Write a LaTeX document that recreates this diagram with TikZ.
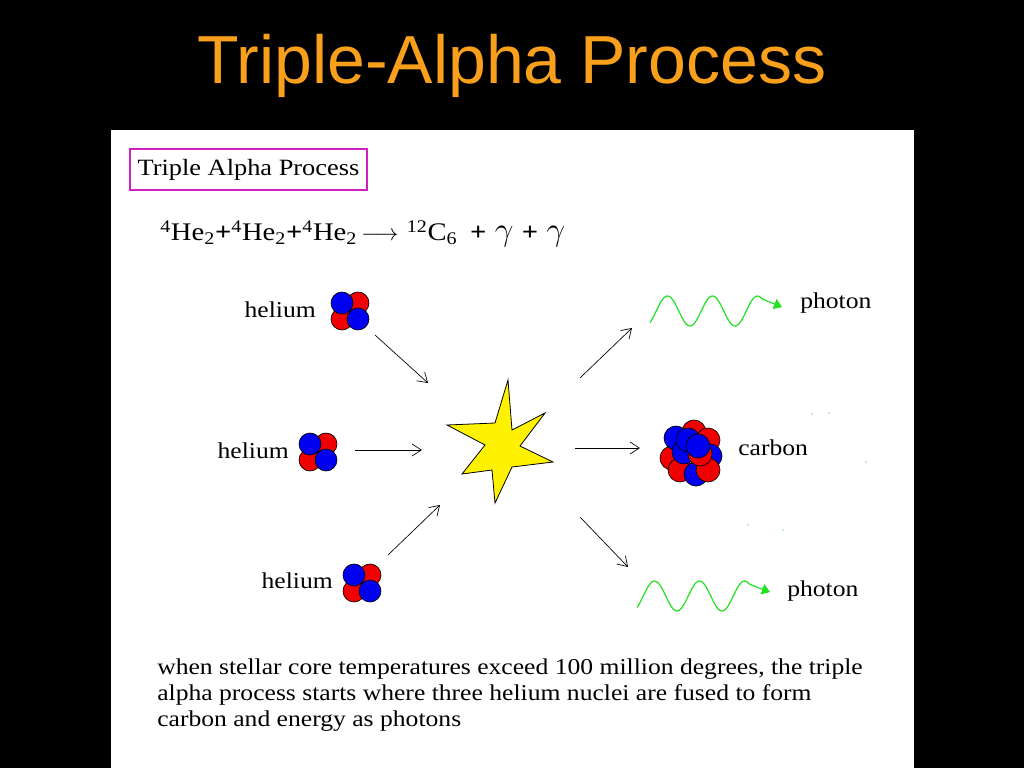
\documentclass[tikz,border=0pt]{standalone}
\usepackage{fontspec}
\setmainfont{Liberation Serif}[FakeStretch=1.13]
\newfontfamily\titlefont{Liberation Sans}
\usetikzlibrary{arrows.meta}
\definecolor{ttl}{HTML}{F8A01C}
\definecolor{nb}{HTML}{0000F0}
\definecolor{nr}{HTML}{F00000}
\definecolor{ph}{HTML}{22E022}
\definecolor{bx}{HTML}{D020C0}
\begin{document}
\begin{tikzpicture}[x=0.75pt,y=-0.75pt,
  arr/.style={-{Straight Barb[length=7pt,width=9pt]},line width=0.5pt},
  lbl/.style={font=\fontsize{17}{20}\selectfont,inner sep=0pt},
  blue/.style={fill=nb,draw=black,line width=0.5pt},
  red/.style={fill=nr,draw=black,line width=0.5pt},
  wave/.style={ph,line width=0.9pt,-{Triangle[length=6pt,width=8pt]}}]
\fill[black] (0,0) rectangle (1024,768);
\useasboundingbox (0,0) rectangle (1024,768);
\fill[white] (111,130) rectangle (914,768);
\node[font=\titlefont\fontsize{51}{56}\selectfont,text=ttl] (title) at (512,66) {Triple-Alpha Process};
\node[draw=bx,line width=0.8pt,minimum width=177.75pt,minimum height=30.75pt,font=\fontsize{17.5}{20}\selectfont] (box) at (248.5,169.5) {Triple Alpha Process};
\node[font=\fontsize{19}{22}\selectfont,anchor=west,inner sep=0pt] (eq) at (160,234)
 {\textsuperscript{4}He\textsubscript{2}\textbf{+}\textsuperscript{4}He\textsubscript{2}\textbf{+}\textsuperscript{4}He\textsubscript{2}\,$\longrightarrow$\,\,\textsuperscript{12}C\textsubscript{6}\,\,\,\textbf{+}\,\,{\fontsize{25}{26}\selectfont$\gamma$}\,\,\textbf{+}\,\,{\fontsize{25}{26}\selectfont$\gamma$}};
% helium nuclei
\foreach \n/\x/\y in {h1/350/311,h2/318/452,h3/362/583}{
  \begin{scope}[shift={(\x,\y)}]
   \draw[red] (8,-8) circle (11);
   \draw[red] (-8,8) circle (11);
   \draw[blue] (8,8) circle (11);
   \draw[blue] (-8,-8) circle (11);
  \end{scope}
  \coordinate (\n) at (\x,\y);
}
\node[lbl,anchor=east] (l1) at (316,310) {helium};
\node[lbl,anchor=east] (l2) at (289,451) {helium};
\node[lbl,anchor=east] (l3) at (333,581) {helium};
% star
\draw[fill=yellow,line width=0.6pt] (508,380)--(512,430)--(545,413)--(520,446)--(553,462)--(512,467)--(495,503)--(492,470)--(462,474)--(485,445)--(447,425)--(495,423)--cycle;
\coordinate (star) at (500,445);
% carbon
\coordinate (c) at (692,450);
\begin{scope}[shift={(692,452)}]
 \foreach \a/\b/\s in {2/-20/red,16/-12/red,-20/6/red,18/4/blue,-12/18/red,4/22/blue,16/18/red,-16/-14/blue,-8/0/blue,8/2/red,-4/-12/blue,6/-6/blue}{
   \draw[\s] (\a,\b) circle (12);}
\end{scope}
\node[lbl,anchor=west] (cl) at (738,448) {carbon};
% arrows
\draw[arr] (375,335) -- (428,383);
\draw[arr] (355,450) -- (422,450);
\draw[arr] (388,555) -- (440,505);
\draw[arr] (580,378) -- (632,328);
\draw[arr] (575,448) -- (640,448);
\draw[arr] (580,517) -- (628,567);
% photons
\draw[wave] plot[domain=0:112,samples=80,smooth] ({650+\x},{311-15*sin(\x*8-50)}) .. controls (772,303) .. (782,307);
\draw[wave] plot[domain=0:112,samples=80,smooth] ({637+\x},{596-15*sin(\x*8-50)}) .. controls (759,588) .. (770,592);
\node[lbl,anchor=west] (p1) at (800,303) {photon};
\node[lbl,anchor=west] (p2) at (787,591) {photon};
\foreach \x/\y in {812/414,829/413,866/462,748/525,783/530}{\fill[ph!60] (\x,\y) circle (0.8);}
% text
\node[font=\fontsize{17}{19.5}\selectfont,align=left,anchor=north west,inner sep=0pt] (txt) at (157,658)
 {when stellar core temperatures exceed 100 million degrees, the triple\\alpha process starts where three helium nuclei are fused to form\\carbon and energy as photons};
\end{tikzpicture}
\end{document}
